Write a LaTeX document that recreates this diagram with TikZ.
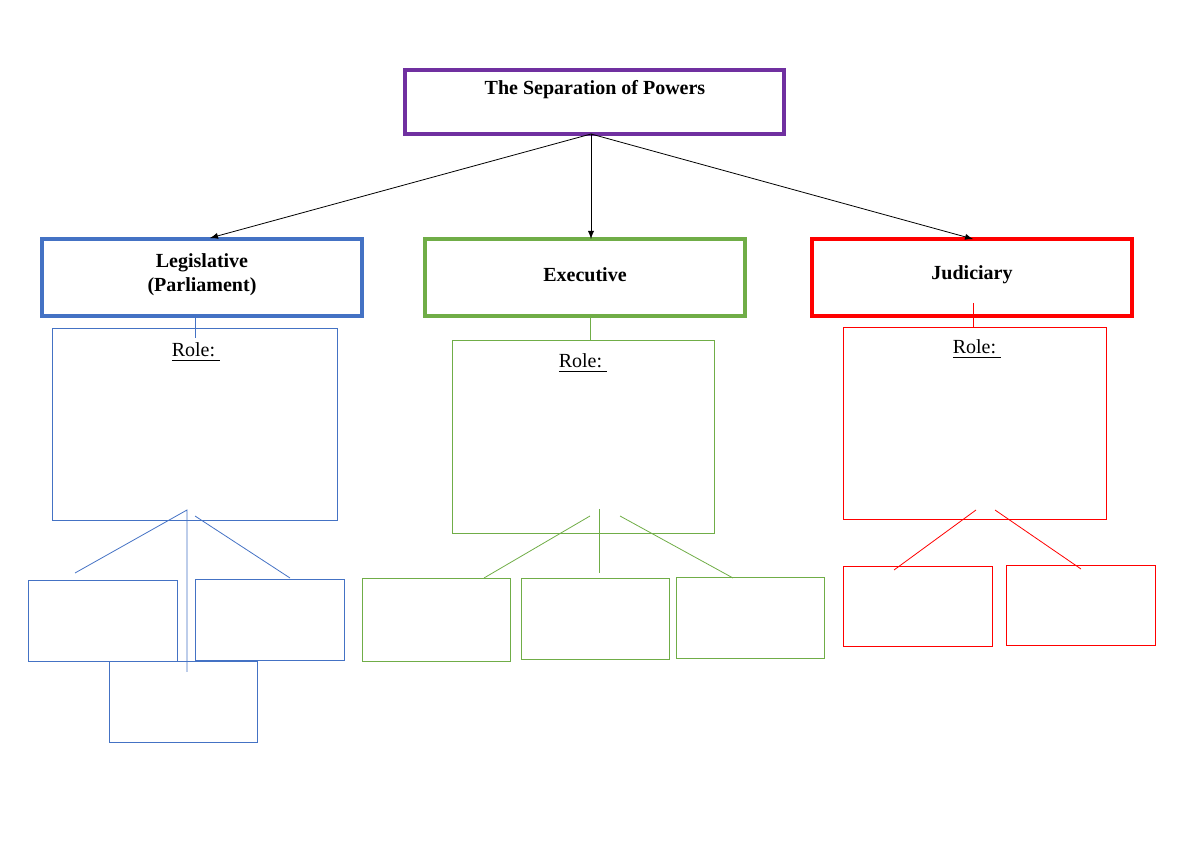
\documentclass[tikz,border=0pt]{standalone}
\usepackage{fontspec}
\setmainfont{Liberation Serif}
\begin{document}
\begin{tikzpicture}[x=0.5pt,y=-0.5pt,
 thick box/.style={line width=1.6pt},
 thin box/.style={line width=0.4pt},
 t/.style={font=\bfseries\fontsize{10}{12}\selectfont,align=center},
 role/.style={font=\fontsize{10}{12}\selectfont,anchor=north},
 arr/.style={-latex,line width=0.4pt}]
\useasboundingbox (0,0) rectangle (1200,849);
\definecolor{pur}{RGB}{112,48,160}
\definecolor{blu}{RGB}{68,114,196}
\definecolor{grn}{RGB}{112,173,71}
\definecolor{rd}{RGB}{255,0,0}
% main boxes
\draw[thick box,pur] (405,70) rectangle (784,134);
\node[t] (top) at (595,90) {The Separation of Powers};
\coordinate (tb) at (591,134);
\draw[thick box,blu] (42,239) rectangle (362,316);
\node[t] (leg) at (202,275) {Legislative\\(Parliament)};
\draw[thick box,grn] (425,239) rectangle (745,316);
\node[t] (exe) at (585,275) {Executive};
\draw[thick box,rd] (812,239) rectangle (1132,316);
\node[t] (jud) at (972,275) {Judiciary};
\coordinate (la) at (210,238);
\coordinate (ea) at (591,239);
\coordinate (ja) at (973,239);
\draw[arr] (tb) -- (la);
\draw[arr] (tb) -- (ea);
\draw[arr] (tb) -- (ja);
% role boxes
\draw[thin box,blu] (52,328) rectangle (337,520);
\node[role] (lr) at (196,336) {\underline{Role:\ }};
\draw[thin box,blu] (195,318) -- (195,338);
\draw[thin box,grn] (452,340) rectangle (714,533);
\node[role] (er) at (583,347) {\underline{Role:\ }};
\draw[thin box,grn] (590,318) -- (590,340);
\draw[thin box,rd] (843,327) rectangle (1106,519);
\node[role] (jr) at (977,333) {\underline{Role:\ }};
\draw[thin box,rd] (973,303) -- (973,327);
% legislative subs
\draw[thin box,blu] (28,580) rectangle (177,661);
\draw[thin box,blu] (195,579) rectangle (344,660);
\draw[thin box,blu] (109,661) rectangle (257,742);
\draw[thin box,blu] (75,573) -- (187,510) -- (187,672);
\draw[thin box,blu] (195,516) -- (290,578);
% executive subs
\draw[thin box,grn] (362,578) rectangle (510,661);
\draw[thin box,grn] (521,578) rectangle (669,659);
\draw[thin box,grn] (676,577) rectangle (824,658);
\draw[thin box,grn] (590,516) -- (484,578);
\draw[thin box,grn] (599,509) -- (599,573);
\draw[thin box,grn] (620,516) -- (733,578);
% judiciary subs
\draw[thin box,rd] (843,566) rectangle (992,646);
\draw[thin box,rd] (1006,565) rectangle (1155,645);
\draw[thin box,rd] (976,510) -- (894,570);
\draw[thin box,rd] (995,510) -- (1081,569);
\end{tikzpicture}
\end{document}
